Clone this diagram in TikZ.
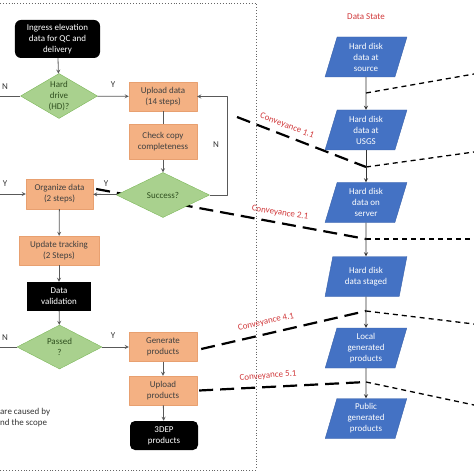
\documentclass[tikz,border=0pt]{standalone}
\usepackage{fontspec}
\setmainfont{Carlito}
\usetikzlibrary{shapes.geometric,backgrounds}
\definecolor{boxorange}{HTML}{F4B183}
\definecolor{lineorange}{HTML}{E8A070}
\definecolor{diagreen}{HTML}{A9D18E}
\definecolor{linegreen}{HTML}{7DB85A}
\definecolor{textgreen}{HTML}{2F4F1F}
\definecolor{stateblue}{HTML}{4472C4}
\definecolor{lineblue}{HTML}{3A62AA}
\definecolor{convred}{HTML}{D0383A}
\definecolor{linkgray}{HTML}{595959}
\begin{document}
\begin{tikzpicture}[x=1bp, y=-1bp, line join=round, >=stealth, font=\fontsize{9}{11}\selectfont]

	\tikzset{
		stepbox/.style={draw=lineorange, fill=boxorange, text=black!75, align=center, inner sep=1bp, minimum width=68bp, minimum height=29bp},
		termbox/.style={fill=black, text=white, align=center, inner sep=1bp, minimum width=68bp, minimum height=29bp},
		askbox/.style={diamond, draw=linegreen, fill=diagreen, text=textgreen, align=center, inner sep=0pt, aspect=1.8},
		statebox/.style={trapezium, trapezium left angle=76, trapezium right angle=104, draw=lineblue, fill=stateblue, text=white, align=center, inner sep=1bp, minimum width=82bp, minimum height=40bp, trapezium stretches=true},
		link/.style={draw=linkgray, line width=0.8bp},
		conv/.style={line width=2.2bp, dash pattern=on 14bp off 7bp},
		convend/.style={line width=1.3bp, dash pattern=on 5bp off 4bp},
		convlabel/.style={text=convred, inner sep=0pt},
		yn/.style={inner sep=0pt, text=black!80}
	}

	\useasboundingbox (0,0) rectangle (474,474);

	% scope border
	\draw[black!60, dotted, line width=0.9bp] (0,3) -- (256,3) -- (256,470) -- (0,470);

	% QC flow
	\node[termbox, rounded corners=6bp, minimum width=85bp, minimum height=38bp] (ingress) at (57.5,39) {Ingress elevation\\data for QC and\\delivery};
	\node[askbox, minimum width=77bp, minimum height=45bp] (hd) at (59,96) {Hard\\drive\\(HD)?};
	\node[stepbox] (upload) at (163,96.5) {Upload data\\(14 steps)};
	\node[stepbox, minimum height=35bp] (check) at (163,142) {Check copy\\completeness};
	\node[askbox, minimum width=93bp, minimum height=45bp] (success) at (163,195) {Success?};
	\node[stepbox, minimum width=67bp, minimum height=30bp] (organize) at (59.5,194) {Organize data\\(2 steps)};
	\node[stepbox, minimum width=80bp] (update) at (59,250.5) {Update tracking\\(2 Steps)};
	\node[termbox, minimum width=64bp] (valid) at (59,296.5) {Data\\validation};
	\node[askbox, minimum width=85bp, minimum height=44bp] (passed) at (59.5,347) {Passed\\?};
	\node[stepbox] (generate) at (163,347) {Generate\\products};
	\node[stepbox] (uploadp) at (163,390.5) {Upload\\products};
	\node[termbox, rounded corners=5bp] (dep) at (164,435.5) {3DEP\\products};

	\coordinate (hdout) at (0,96);
	\coordinate (orgin) at (0,194);
	\coordinate (passout) at (0,347);
	\coordinate (loop) at (227,195);

	\draw[link,->] (ingress) -- (hd);
	\draw[link,->] (hd) -- (upload);
	\draw[link] (upload) -- (check);
	\draw[link,->] (check) -- (success);
	\draw[link,->] (success) -- (organize);
	\draw[link,->] (success.east) -- (loop) |- (upload.east);
	\draw[link] (hd) -- (hdout);
	\draw[link,->] (orgin) -- (organize);
	\draw[link,->] (organize) -- (update);
	\draw[link,->] (update) -- (valid);
	\draw[link,->] (valid) -- (passed);
	\draw[link] (passed) -- (passout);
	\draw[link,->] (passed) -- (generate);
	\draw[link,->] (generate) -- (uploadp);
	\draw[link,->] (uploadp) -- (dep);

	\node[yn] (n1) at (5,87) {N};
	\node[yn] (y1) at (113,85) {Y};
	\node[yn] (n2) at (216,145) {N};
	\node[yn] (y2) at (106,184) {Y};
	\node[yn] (y3) at (5,184) {Y};
	\node[yn] (n3) at (5,338) {N};
	\node[yn] (y4) at (113,336) {Y};

	\node[anchor=west, inner sep=0pt, text=black!80, align=left] (note) at (0,418) {are caused by\\nd the scope};

	% data states
	\node[convlabel] (title) at (366,17) {Data State};
	\node[statebox] (src) at (366,57) {Hard disk\\data at\\source};
	\node[statebox] (usgs) at (366,130) {Hard disk\\data at\\USGS};
	\node[statebox] (srv) at (366,202.5) {Hard disk\\data on\\server};
	\node[statebox] (stg) at (366,276.5) {Hard disk\\data staged};
	\node[statebox] (loc) at (366,348) {Local\\generated\\products};
	\node[statebox] (pub) at (366,418.5) {Public\\generated\\products};

	\foreach \a/\b in {src/usgs,usgs/srv,srv/stg,stg/loc,loc/pub}
	\draw[black!80, line width=0.8bp, ->] (\a) -- (\b);

	% conveyances
	\begin{scope}[on background layer]
	\foreach \j/\y/\ey in {1/93/74,2/167/152,3/239/239,4/311/324,5/382/405}{
		\coordinate (j\j) at (366,\y);
		\coordinate (e\j) at (474,\ey);
		\draw[convend] (j\j) -- (e\j);
	}
	\coordinate (c1) at (237,117);
	\draw[conv] (c1) -- (j2);
	\draw[conv] ([xshift=3bp,yshift=5bp]organize.east) -- (j3);
	\draw[conv] ([xshift=4bp,yshift=-2bp]generate.east) -- (j4);
	\draw[conv] ([xshift=2bp]uploadp.east) -- (j5);
	\end{scope}

	\node[convlabel, rotate=-21] (cv1) at (287,126) {Conveyance 1.1};
	\node[convlabel, rotate=-9] (cv2) at (280,213) {Conveyance 2.1};
	\node[convlabel, rotate=12] (cv4) at (266,322) {Conveyance 4.1};
	\node[convlabel, rotate=5] (cv5) at (268,376) {Conveyance 5.1};
\end{tikzpicture}
\end{document}
